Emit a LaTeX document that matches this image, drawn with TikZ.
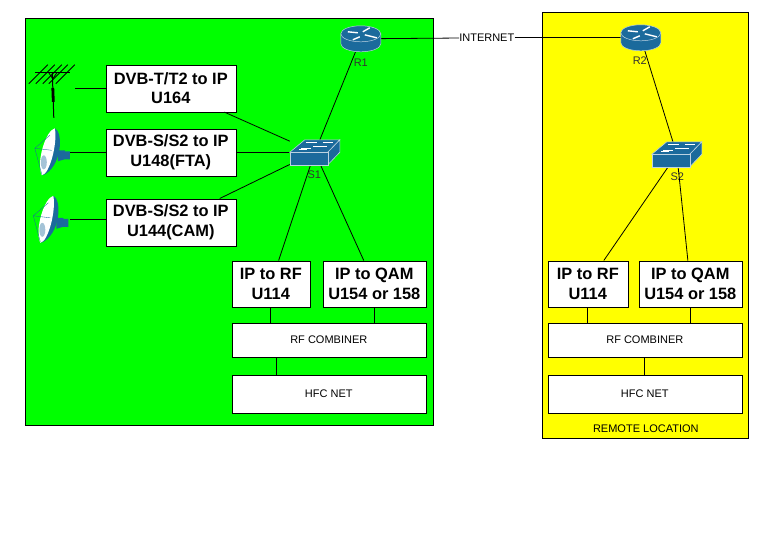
\documentclass[tikz,border=0pt]{standalone}
\usepackage{fontspec}
\setmainfont{Liberation Sans}
\definecolor{iconblue}{HTML}{1B6A9C}
\definecolor{areagreen}{HTML}{00FF00}
\definecolor{areayellow}{HTML}{FFFF00}
\tikzset{
  area/.style={draw=black,line width=0.7pt},
  bigbox/.style={draw=black,fill=white,line width=0.6pt,inner sep=0pt,align=center,font=\fontsize{16.4}{19.5}\selectfont\bfseries},
  smallbox/.style={draw=black,fill=white,line width=0.6pt,inner sep=0pt,font=\fontsize{11}{13}\selectfont},
  iconbox/.style={inner sep=0pt,outer sep=0pt},
  tag/.style={inner sep=0pt,font=\fontsize{11}{13}\selectfont,text=black!80},
  link/.style={line width=0.8pt,black},
  pics/router/.style={code={
    \draw [white!70!iconblue,line width=0.5pt,fill=iconblue] (-20,-5) -- (-20,5) arc [start angle=180,end angle=0,x radius=20,y radius=8] -- (20,-5) -- cycle;
    \draw [white!70!iconblue,line width=0.5pt,fill=iconblue] (0,-5) ellipse [x radius=20,y radius=8];
    \draw [white,line width=1.4pt] (-13,-7) -- (-3,-6) (16,-1) -- (4,-4) (-8,1) -- (-1,-2) (9,-11) -- (2,-7);
  }},
  pics/switch/.style={code={
    \draw [white!70!iconblue,line width=0.6pt,fill=iconblue] (-25,0) -- (-10,-12.5) -- (25,-12.5) -- (13,0) -- cycle;
    \draw [white!70!iconblue,line width=0.6pt,fill=iconblue] (13,0) -- (25,-12.5) -- (25,0) -- (13,12.5) -- cycle;
    \draw [white!70!iconblue,line width=0.6pt,fill=iconblue] (-25,0) rectangle (13,12.5);
    \draw [white,line width=0.9pt] (-9,-9.5) -- (2,-9.5) (8,-9.5) -- (18,-9.5) (-14,-4) -- (-4,-4) (-2,-6) -- (12,-6) (-16,-2.5) -- (-8,-2.5);
  }},
  pics/dish/.style={code={
    \fill [iconblue] (6,-2) -- (13,-2) -- (13,-1) -- (18,-1) -- (18,7) -- (13,7) -- (6,9) -- cycle;
    \fill [iconblue] (3,-24) .. controls (12,-20) and (10,15) .. (-9,23) -- cycle;
    \fill [white] (3,-24) .. controls (-6,-22) and (-16,10) .. (-10,23) .. controls (-2,22) and (6,-10) .. (3,-24);
    \draw [iconblue,line width=0.35pt] (-2,-17) -- (-17,-4) -- (-10,22) (-17,-4) -- (0,-2);
    \fill [iconblue!40] (-8,10) ellipse [x radius=3,y radius=7];
  }},
  pics/antenna/.style={code={
    \draw [line width=0.9pt] (-17,-17) -- (18,-17);
    \foreach \xa in {0,7,14,20,27} \draw [line width=0.9pt] (-23+\xa,-6) -- (-4+\xa,-25);
    \draw [line width=0.8pt] (-3,-17) -- (1,-11) -- (5,-17);
    \draw [line width=1pt] (0.5,-17) -- (2,28);
    \draw [line width=2.8pt] (1,-2) -- (1.5,12);
  }},
}
\begin{document}
\begin{tikzpicture}[x=1pt,y=-1pt]
  \useasboundingbox (0.2,0.2) rectangle (768.2,543.2);
  \fill [white] (0,0) rectangle (769,544);
  \draw [area,fill=areagreen] (26,19) rectangle (434,426);
  \draw [area,fill=areayellow] (543,13) rectangle (749,439);
  %%
  \node (DVBT) at (171,88.5) [bigbox,minimum width=130pt,minimum height=47pt] {DVB-T/T2 to IP\\U164};
  \node (DVBS) at (171,152.5) [bigbox,minimum width=130pt,minimum height=47pt] {DVB-S/S2 to IP\\U148(FTA)};
  \node (CAM) at (171,222.5) [bigbox,minimum width=130pt,minimum height=47pt] {DVB-S/S2 to IP\\U144(CAM)};
  \node (RF1) at (271,284) [bigbox,minimum width=78pt,minimum height=46pt] {IP to RF\\U114};
  \node (QAM1) at (374.5,284) [bigbox,minimum width=103pt,minimum height=46pt] {IP to QAM\\U154 or 158};
  \node (COMB1) at (329,340) [smallbox,minimum width=194pt,minimum height=34pt] {RF COMBINER};
  \node (HFC1) at (329,394) [smallbox,minimum width=194pt,minimum height=38pt] {HFC NET};
  \node (RF2) at (588,284) [bigbox,minimum width=80pt,minimum height=46pt] {IP to RF\\U114};
  \node (QAM2) at (690.5,284) [bigbox,minimum width=103pt,minimum height=46pt] {IP to QAM\\U154 or 158};
  \node (COMB2) at (645,340) [smallbox,minimum width=194pt,minimum height=34pt] {RF COMBINER};
  \node (HFC2) at (645,394) [smallbox,minimum width=194pt,minimum height=38pt] {HFC NET};
  \node (R1) at (361,39) [iconbox,minimum width=40pt,minimum height=26pt] {};
  \node (R2) at (641,38) [iconbox,minimum width=40pt,minimum height=26pt] {};
  \node (S1) at (315,152.5) [iconbox,minimum width=50pt,minimum height=25pt] {};
  \node (S2) at (677,154.5) [iconbox,minimum width=50pt,minimum height=25pt] {};
  \node (ANT) at (52,90) [iconbox,minimum width=46pt,minimum height=56pt] {};
  \node (D1) at (52,152.5) [iconbox,minimum width=36pt,minimum height=50pt] {};
  \node (D2) at (50.5,220) [iconbox,minimum width=39pt,minimum height=50pt] {};
  \node (NET) at (487,38) [tag,text=black] {INTERNET};
  \node (LR1) at (361,62.5) [tag] {R1};
  \node (LR2) at (640,61) [tag] {R2};
  \node (LS1) at (314.5,175) [tag] {S1};
  \node (LS2) at (677.5,177) [tag] {S2};
  \node (REM) at (646,428.5) [tag,text=black] {REMOTE LOCATION};
  %%
  \draw [link] (R1) -- (NET);
  \draw [link] (NET) -- (R2);
  \draw [link] (R1) -- (S1);
  \draw [link] (R2) -- (S2);
  \draw [link] (DVBT) -- (S1);
  \draw [link] (DVBS) -- (S1);
  \draw [link] (CAM) -- (S1);
  \draw [link] (S1) -- (RF1);
  \draw [link] (S1) -- (QAM1);
  \draw [link] (S2) -- (RF2);
  \draw [link] (S2) -- (QAM2);
  \draw [link] (ANT.east |- DVBT) -- (DVBT);
  \draw [link] (D1) -- (DVBS);
  \draw [link] (D2.east) -- (D2 -| CAM.west);
  \draw [link] (RF1) -- (RF1 |- COMB1.north);
  \draw [link] (QAM1) -- (QAM1 |- COMB1.north);
  \draw [link] ([xshift=-52pt]COMB1.south) -- ([xshift=-52pt]HFC1.north);
  \draw [link] (RF2) -- (RF2 |- COMB2.north);
  \draw [link] (QAM2) -- (QAM2 |- COMB2.north);
  \draw [link] (COMB2) -- (HFC2);
  %%
  \pic at (R1) {router};
  \pic at (R2) {router};
  \pic at (S1) {switch};
  \pic at (S2) {switch};
  \pic at (ANT) {antenna};
  \pic at (D1) {dish};
  \pic at (D2) {dish};
\end{tikzpicture}
\end{document}
